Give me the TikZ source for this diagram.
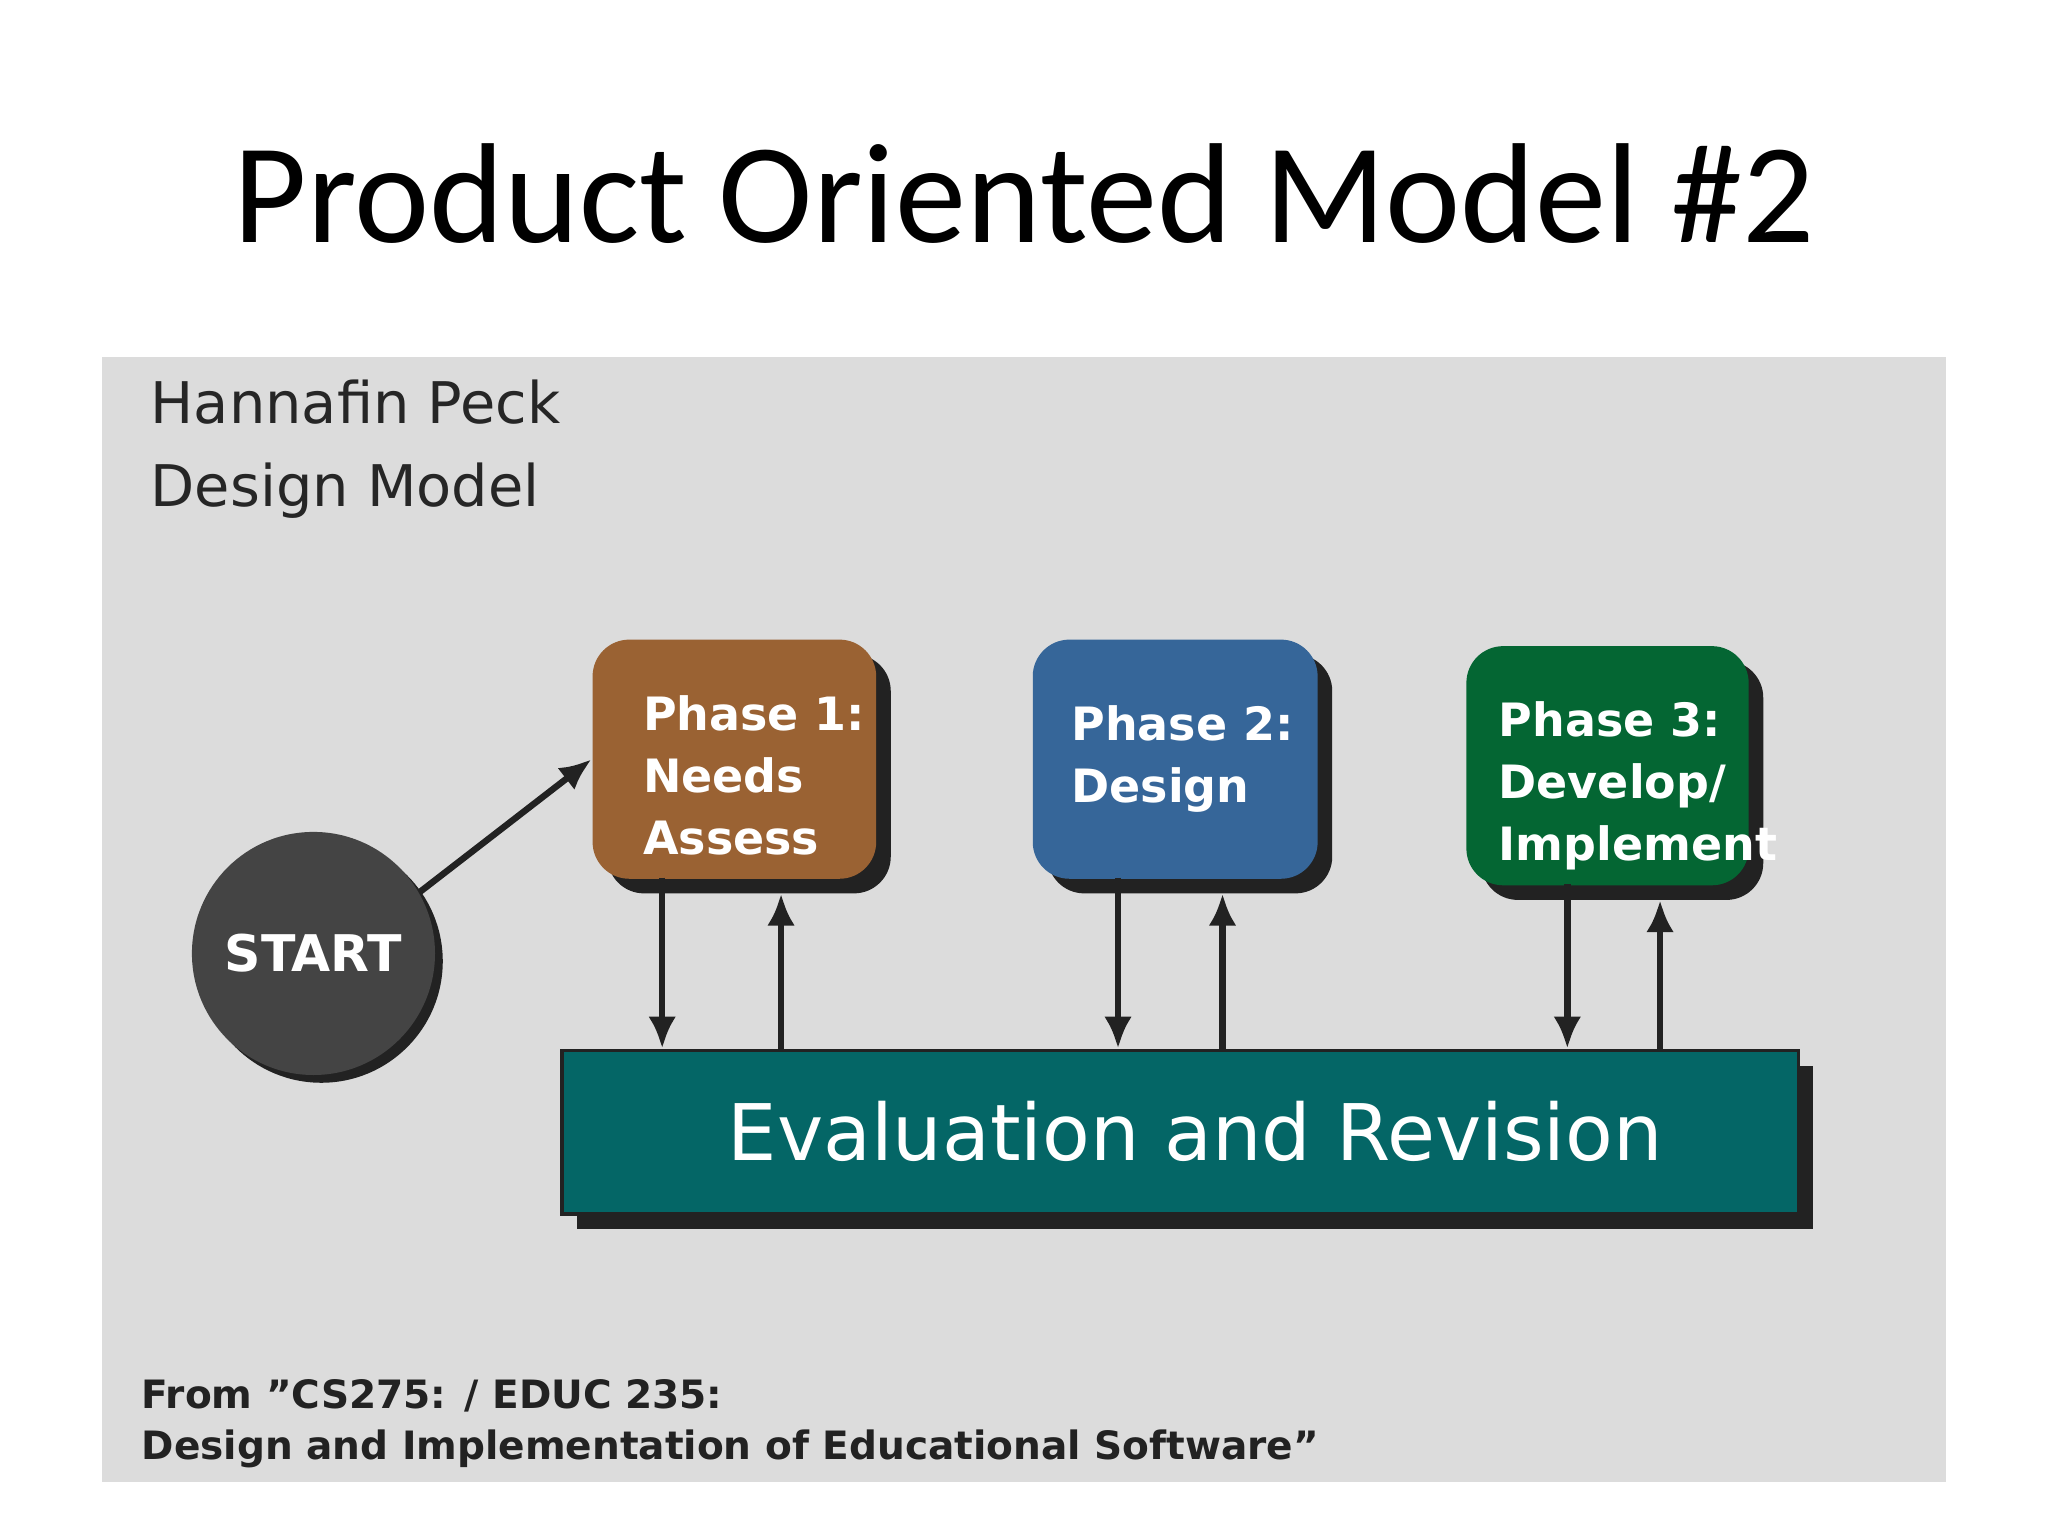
\documentclass[tikz,border=0pt]{standalone}
\usepackage{fontspec}
\setmainfont{DejaVu Sans}
\newfontfamily\titlefont{Carlito}
\usetikzlibrary{arrows.meta}
\definecolor{panel}{HTML}{DCDCDC}
\definecolor{brownph}{HTML}{9A6233}
\definecolor{blueph}{HTML}{366699}
\definecolor{greenph}{HTML}{046633}
\definecolor{tealev}{HTML}{046666}
\definecolor{startc}{HTML}{444444}
\definecolor{shad}{HTML}{222222}
\tikzset{
  phasebox/.style={rounded corners=8pt,minimum width=2.17cm,minimum height=1.83cm,anchor=north west},
  phasetxt/.style={text=white,font=\bfseries\fontsize{10}{13.5}\selectfont,align=left,anchor=north west},
  conn/.style={line width=1.4pt,draw=shad,-{Latex[length=7pt,width=6pt]}}
}
\begin{document}
\begin{tikzpicture}[x=0.01cm,y=-0.01cm]
\useasboundingbox (0,0) rectangle (1568,1176);
\fill[white] (0,0) rectangle (1568,1176);
\node[font=\titlefont\fontsize{31}{36}\selectfont] (title) at (784,148) {Product Oriented Model \#2};
\fill[panel] (78,273) rectangle (1490,1135);
\node[anchor=west,align=left,font=\fontsize{12.5}{18}\selectfont,text=black!85] (hp) at (103,344) {Hannafin Peck\\Design Model};
% phase boxes
\fill[shad,rounded corners=8pt] (465,501) rectangle (682,684);
\node[phasebox,fill=brownph] (p1) at (453,489) {};
\fill[shad,rounded corners=8pt] (802,501) rectangle (1020,684);
\node[phasebox,fill=blueph,minimum width=2.18cm] (p2) at (790,489) {};
\fill[shad,rounded corners=8pt] (1134,506) rectangle (1350,689);
\node[phasebox,fill=greenph,minimum width=2.16cm] (p3) at (1122,494) {};
\node[phasetxt] (t1) at (480,520) {Phase 1:\\Needs\\Assess};
\node[phasetxt] (t2) at (808,528) {Phase 2:\\Design};
\node[phasetxt] (t3) at (1135,525) {Phase 3:\\Develop/\\Implement};
% start
\fill[shad] (246,736) circle (93);
\node[circle,fill=startc,minimum size=1.86cm,text=white,font=\bfseries\fontsize{11}{13}\selectfont] (st) at (240,730) {START};
% eval
\fill[shad] (442,816) rectangle (1388,941);
\node[draw=shad,line width=0.8pt,fill=tealev,minimum width=9.46cm,minimum height=1.25cm,anchor=north west] (ev) at (429,803) {};
\node[text=white,font=\fontsize{17}{20}\selectfont] (evt) at (915,866) {Evaluation and Revision};
% connectors
\draw[conn] (st.30) -- (p1.west);
\draw[conn] (507,672) -- (507,803);
\draw[conn] (598,803) -- (598,684);
\draw[conn] (856,672) -- (856,803);
\draw[conn] (936,803) -- (936,684);
\draw[conn] (1200,677) -- (1200,803);
\draw[conn] (1271,803) -- (1271,689);
\node[anchor=west,align=left,font=\bfseries\fontsize{8.5}{11}\selectfont,text=shad] (src) at (96,1090) {From "CS275: / EDUC 235:\\Design and Implementation of Educational Software"};
\end{tikzpicture}
\end{document}
